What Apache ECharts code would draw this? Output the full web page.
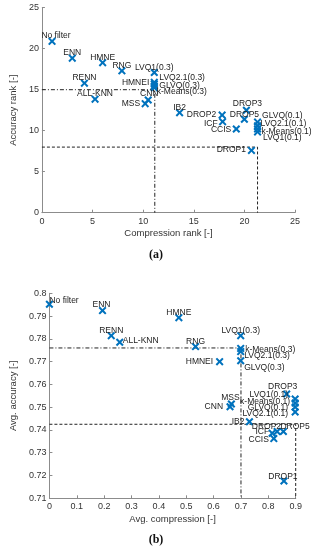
<!DOCTYPE html>
<html><head><meta charset="utf-8">
<script src="https://cdn.jsdelivr.net/npm/echarts@6/dist/echarts.min.js"></script>
<style>html,body{margin:0;padding:0;background:#fff}#c{width:312px;height:550px}</style>
</head><body><div id="c"></div>
<script>
// ---- Chart (a): ranks ----
const namesA = ['No filter','ENN','HMNE','RNG','LVQ1(0.3)','RENN','ALL-KNN','HMNEI','LVQ2.1(0.3)','GLVQ(0.3)','k-Means(0.3)','CNN','MSS','IB2','DROP2','ICF','CCIS','DROP3','DROP5','GLVQ(0.1)','LVQ2.1(0.1)','k-Means(0.1)','LVQ1(0.1)','DROP1'];
const compRankA = [1.0,3.0,6.0,7.9,11.1,4.2,5.25,11.1,11.1,11.1,11.1,10.5,10.2,13.6,17.8,17.85,19.2,20.2,20.0,21.3,21.3,21.3,21.3,20.7];
const accRankA  = [20.9,18.85,18.3,17.3,17.1,15.8,13.85,15.7,15.9,15.45,15.25,13.75,13.3,12.2,11.9,11.1,10.2,12.5,11.4,11.05,10.6,10.2,9.85,7.6];
const ticksA = [0,5,10,15,20,25];
const refDashDotA = [11.15, 15];
const refDashedA = [21.3, 8];

// ---- Chart (b): averages ----
const namesB = ['No filter','ENN','RENN','ALL-KNN','HMNE','RNG','LVQ1(0.3)','k-Means(0.3)','LVQ2.1(0.3)','GLVQ(0.3)','HMNEI','DROP3','MSS','CNN','LVQ1(0.1)','k-Means(0.1)','GLVQ(0.1)','LVQ2.1(0.1)','IB2','DROP2','DROP5','ICF','CCIS','DROP1'];
const compB = [0.0,0.194,0.226,0.257,0.473,0.534,0.699,0.699,0.699,0.699,0.622,0.867,0.665,0.660,0.898,0.898,0.898,0.898,0.731,0.832,0.855,0.814,0.820,0.857];
const accB  = [0.7952,0.7924,0.7814,0.7785,0.7893,0.7766,0.7814,0.7758,0.7744,0.7704,0.7700,0.7558,0.7514,0.7502,0.7536,0.7518,0.7501,0.7479,0.7436,0.7393,0.7393,0.7386,0.7362,0.7176];
const ticksBx = [0,0.1,0.2,0.3,0.4,0.5,0.6,0.7,0.8,0.9];
const ticksBy = [0.71,0.72,0.73,0.74,0.75,0.76,0.77,0.78,0.79,0.8];
const refDashDotB = [0.7, 0.776];
const refDashedB = [0.9, 0.7425];

// ---- label placement (style only) ----
const labA = [['center',4,-6],['center',0,-5],['center',0,-5],['center',0,-5],['center',0,-5],['center',0,-5],['center',0,-5],['right',-5,-1],['left',5,-4.5],['left',5,0],['left',2.5,4.5],['center',1,-6],['right',-5,0],['center',0,-5],['right',-6,0],['right',-5,1.5],['right',-5,0.5],['center',1,-6.5],['center',0,-4.5],['left',4.5,-6],['left',3,-2],['left',4,2.5],['left',5.5,6],['right',-5.5,-1]];
const labB = [['left',0,-4],['center',-1,-5.5],['center',0,-5],['left',3,-1.5],['center',0,-5.5],['center',0,-5],['center',0,-5],['left',4.5,1.5],['left',3.5,4],['left',3.5,7],['right',-6.5,0],['center',-4,-7],['center',-1,-6],['right',-7,0],['right',-7,-4],['right',-5,-1.5],['right',-7,0.5],['right',-7,2],['right',-5,0],['right',4,-5],['left',-3,-5],['right',-3,-1],['right',-5,1],['center',-1,-4.5]];

const FONT = 'Liberation Sans';
const BLUE = '#0072BD';
const XSYM = 'path://M0,1.8L1.8,0L5,3.2L8.2,0L10,1.8L6.8,5L10,8.2L8.2,10L5,6.8L1.8,10L0,8.2L3.2,5Z';

function pts(names, xs, ys, lab) {
  return names.map((n, i) => ({
    name: n, value: [xs[i], ys[i]],
    label: { align: lab[i][0], offset: [lab[i][1], lab[i][2]] }
  }));
}
function refLine(pt, minX, minY) {
  return [[minX, pt[1]], [pt[0], pt[1]], [pt[0], minY]];
}
function axisCommon() {
  return {
    axisLine: { show: true, lineStyle: { color: '#8c8c8c', width: 1 } },
    axisTick: { show: true, inside: true, length: 3, lineStyle: { color: '#8c8c8c' } },
    splitLine: { show: false },
    axisLabel: { color: '#333', fontSize: 9, fontFamily: FONT },
    nameLocation: 'middle',
    nameTextStyle: { color: '#333', fontSize: 9.5, fontFamily: FONT }
  };
}
const fmt1 = v => String(parseFloat(v.toFixed(1)));
const fmt2 = v => String(parseFloat(v.toFixed(2)));

const scatterLabel = {
  show: true, position: 'inside', formatter: '{b}', color: '#222',
  fontSize: 8.5, fontFamily: FONT, verticalAlign: 'middle', textBorderWidth: 0
};
const lineBase = { type: 'line', symbol: 'none', silent: true, z: 1, animation: false };

const option = {
  animation: false,
  backgroundColor: '#fff',
  grid: [
    { left: 34.3, top: 7.7, width: 260.7, height: 205 },
    { left: 34.3, top: 293.3, width: 261.4, height: 205 }
  ],
  xAxis: [
    Object.assign(axisCommon(), { gridIndex: 0, type: 'value', min: ticksA[0], max: ticksA[ticksA.length-1], interval: ticksA[1]-ticksA[0], name: 'Compression rank [-]', nameGap: 16 }),
    Object.assign(axisCommon(), { gridIndex: 1, type: 'value', min: ticksBx[0], max: ticksBx[ticksBx.length-1], interval: 0.1, name: 'Avg. compression [-]', nameGap: 16 })
  ],
  yAxis: [
    Object.assign(axisCommon(), { gridIndex: 0, type: 'value', min: ticksA[0], max: ticksA[ticksA.length-1], interval: ticksA[1]-ticksA[0], name: 'Accuracy rank [-]', nameGap: 14 }),
    Object.assign(axisCommon(), { gridIndex: 1, type: 'value', min: ticksBy[0], max: ticksBy[ticksBy.length-1], interval: 0.01, name: 'Avg. accuracy [-]', nameGap: 16 })
  ],
  series: [
    Object.assign({}, lineBase, { xAxisIndex: 0, yAxisIndex: 0, data: refLine(refDashDotA, ticksA[0], ticksA[0]), lineStyle: { color: '#222', width: 1, type: [4,2,1,2] } }),
    Object.assign({}, lineBase, { xAxisIndex: 0, yAxisIndex: 0, data: refLine(refDashedA, ticksA[0], ticksA[0]), lineStyle: { color: '#222', width: 1, type: [3,2] } }),
    Object.assign({}, lineBase, { xAxisIndex: 1, yAxisIndex: 1, data: refLine(refDashDotB, ticksBx[0], ticksBy[0]), lineStyle: { color: '#222', width: 1, type: [4,2,1,2] } }),
    Object.assign({}, lineBase, { xAxisIndex: 1, yAxisIndex: 1, data: refLine(refDashedB, ticksBx[0], ticksBy[0]), lineStyle: { color: '#222', width: 1, type: [3,2] } }),
    { type: 'scatter', xAxisIndex: 0, yAxisIndex: 0, z: 3, symbol: XSYM, symbolSize: 8,
      itemStyle: { color: BLUE, opacity: 1 }, label: scatterLabel, data: pts(namesA, compRankA, accRankA, labA) },
    { type: 'scatter', xAxisIndex: 1, yAxisIndex: 1, z: 3, symbol: XSYM, symbolSize: 8,
      itemStyle: { color: BLUE, opacity: 1 }, label: scatterLabel, data: pts(namesB, compB, accB, labB) }
  ],
  graphic: [
    { type: 'text', left: 'center', top: 249, style: { text: '(a)', font: 'bold 12px "Liberation Serif", serif', fill: '#111' } },
    { type: 'text', left: 'center', top: 534, style: { text: '(b)', font: 'bold 12px "Liberation Serif", serif', fill: '#111' } }
  ]
};
option.xAxis[1].axisLabel.formatter = fmt1;
option.yAxis[1].axisLabel.formatter = fmt2;
option.yAxis[0].axisLabel.margin = 3;
option.yAxis[1].axisLabel.margin = 3;
option.xAxis[0].axisLabel.margin = 4;
option.xAxis[1].axisLabel.margin = 4;

const chart = echarts.init(document.getElementById('c'), null, { renderer: 'canvas' });
chart.setOption(option);
</script>
</body></html>
